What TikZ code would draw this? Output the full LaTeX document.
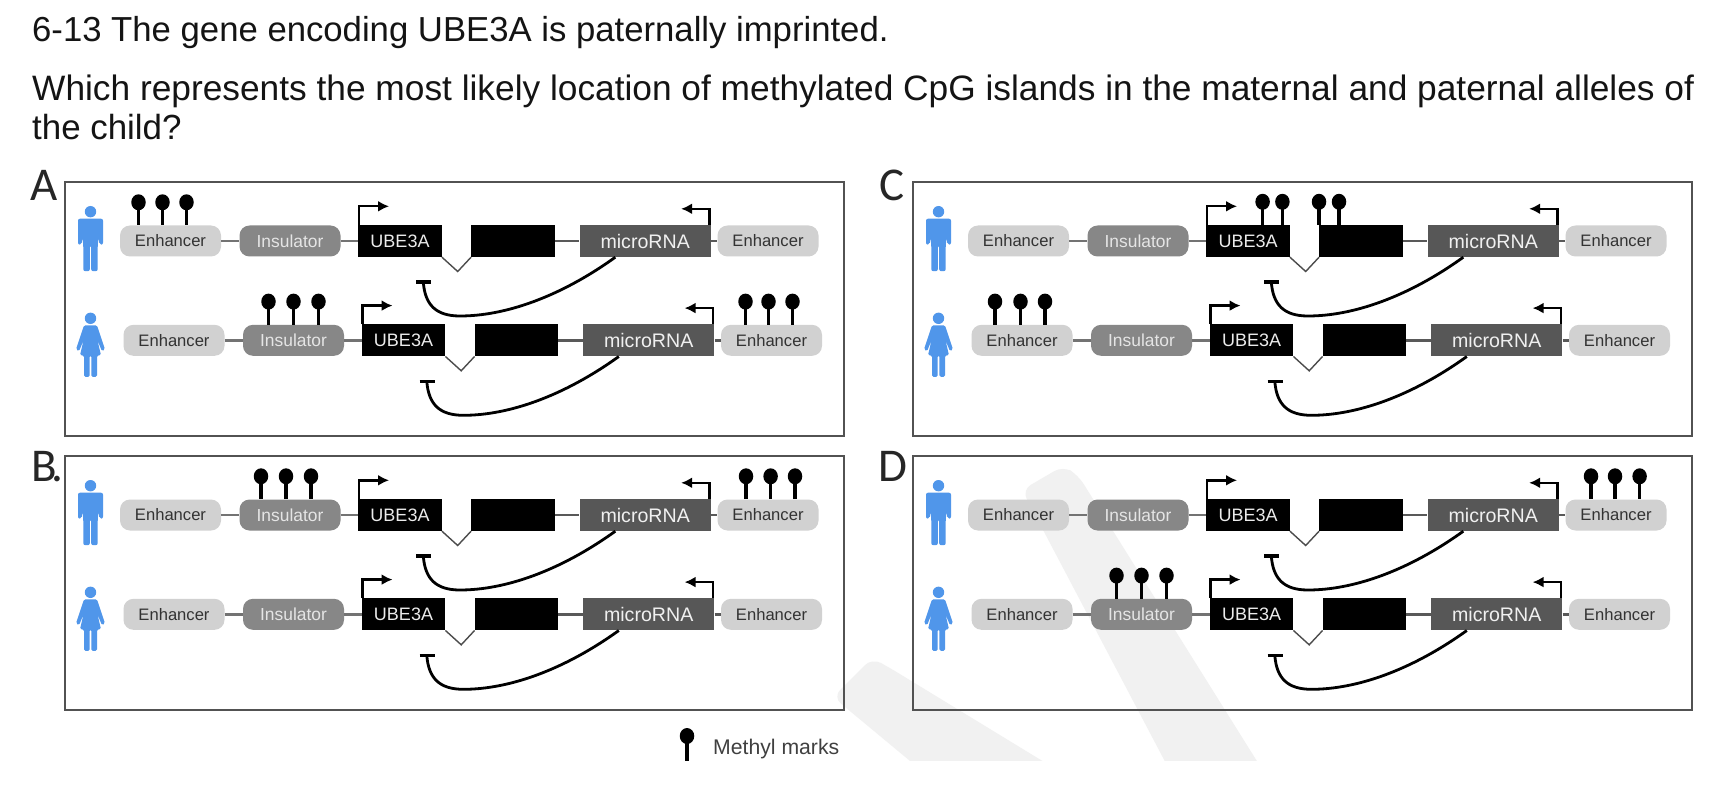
\documentclass[tikz,border=0pt]{standalone}
\usepackage{fontspec}
\setmainfont{Liberation Sans}
\newfontfamily\panelfont{Carlito}
\usetikzlibrary{arrows.meta,calc,shapes.geometric}
\definecolor{figblue}{HTML}{5096EA}
\definecolor{wmark}{HTML}{F1F1F1}
\tikzset{
  enhbox/.style={draw=none,fill=black!18,rounded corners=10pt,minimum width=101pt,minimum height=31pt,inner sep=0pt,text=black!80,font=\fontsize{16.6}{18}\selectfont},
  insbox/.style={draw=none,fill=black!47,rounded corners=10pt,minimum width=101pt,minimum height=31pt,inner sep=0pt,text=black!10,font=\fontsize{17.4}{18}\selectfont},
  ubebox/.style={draw=none,fill=black,minimum width=83.5pt,minimum height=32pt,inner sep=0pt,text=black!8,font=\fontsize{18}{20}\selectfont},
  mirbox/.style={draw=none,fill=black!66,minimum width=131.4pt,minimum height=32pt,inner sep=0pt,text=black!6,font=\fontsize{19.6}{20}\selectfont},
  link/.style={draw=black!55,line width=2.4pt},
  intron/.style={draw=black!70,line width=1.4pt},
  promoter/.style={draw=black,line width=2.4pt,-{Latex[length=11pt,width=11pt]}},
  repress/.style={draw=black,line width=2.8pt},
  stopbar/.style={draw=black,line width=3.4pt},
  lollihead/.style={ellipse,fill=black,draw=none,minimum width=14.5pt,minimum height=16pt,inner sep=0pt},
  lollistick/.style={draw=black,line width=3.6pt},
  framebox/.style={draw=black!68,line width=2pt},
  plabel/.style={font=\panelfont\fontsize{47}{50}\selectfont,text=black!85,anchor=base west,inner sep=0pt},
  qtext/.style={text=black!92,anchor=base west,inner sep=0pt}
}
\newcommand{\allele}[3]{%
  \begin{scope}[shift={(#2,#3)}]
    \node[enhbox] (#1enhl) at (170.5,241) {Enhancer};
    \node[insbox] (#1ins) at (290,241) {Insulator};
    \node[ubebox] (#1ube) at (400,241) {UBE3A};
    \node[ubebox] (#1blk) at (513,241) {};
    \node[mirbox] (#1mir) at (645.2,241) {microRNA};
    \node[enhbox] (#1enhr) at (768,241) {Enhancer};
    \draw[link] (#1enhl) -- (#1ins);
    \draw[link] (#1ins) -- (#1ube);
    \draw[link,black!65] (#1blk) -- (#1mir);
    \draw[link,black!65] (#1mir) -- (#1enhr);
    \coordinate (#1vtip) at (457.7,271.5);
    \draw[intron] (#1ube.south east) -- (#1vtip) -- (#1blk.south west);
    \draw[promoter] ($(#1ube.north west)+(1,0)$) -- ++(0,-18.5) -- ++(30,0);
    \draw[promoter] ($(#1mir.north east)+(-1.5,0)$) -- ++(0,-16) -- ++(-28.5,0);
    \coordinate (#1mirout) at ($(#1mir.south west)+(36,0)$);
    \coordinate (#1stop) at (423.3,282);
    \coordinate (#1stopl) at (416,282);
    \coordinate (#1stopr) at (431,282);
    \draw[repress] (#1mirout) .. controls (560,297) and (505,316) .. (460,316) .. controls (436,316) and (425,305) .. (#1stop);
    \draw[stopbar] (#1stopl) -- (#1stopr);
  \end{scope}}
\newcommand{\man}[2]{%
  \begin{scope}[shift={(#1,#2)}]
    \fill[figblue] (0,0) circle (5.7);
    \fill[figblue,rounded corners=2pt] (-12.5,7) -- (12.5,7) -- (12.5,33) -- (9,33) -- (8,26) -- (7.2,34) -- (7.2,59.5) -- (0.7,59.5) -- (0.7,34) -- (-0.7,34) -- (-0.7,59.5) -- (-7.2,59.5) -- (-7.2,34) -- (-8,26) -- (-9,33) -- (-12.5,33) -- cycle;
  \end{scope}}
\newcommand{\woman}[2]{%
  \begin{scope}[shift={(#1,#2)}]
    \fill[figblue] (0,0) circle (5.7);
    \fill[figblue,rounded corners=1.5pt] (-6.5,7) -- (6.5,7) -- (14.5,31) -- (11.5,33) -- (7,22) -- (10.5,37) -- (6.5,37) -- (6.5,58.5) -- (0.8,58.5) -- (0.8,37) -- (-0.8,37) -- (-0.8,58.5) -- (-6.5,58.5) -- (-6.5,37) -- (-10.5,37) -- (-7,22) -- (-11.5,33) -- (-14.5,31) -- cycle;
  \end{scope}}
\newcommand{\panel}[3]{%
  \begin{scope}[shift={(#2,#3)}]
    \path[framebox] (65.4,182) rectangle (843.8,436);
    \man{90.5}{211.7}
    \woman{90.5}{318.3}
  \end{scope}
  \allele{#1x}{#2}{#3}
  \allele{#1y}{#2+3.5}{#3+99.3}}
\newcommand{\methyl}[2]{%
  \path (#1.north) ++(#2,0) coordinate (mbase) ++(0,-23) node[lollihead] (mhead) {};
  \draw[lollistick] (mhead.center) -- (mbase);}
\begin{document}
\begin{tikzpicture}[x=1pt,y=-1pt]
  \useasboundingbox (0,0) rectangle (1736,786);
  \fill[white] (0,0) rectangle (1736,786);
  % watermark
  \begin{scope}
    \clip (800,440) rectangle (1300,760);
    \fill[wmark,rounded corners=10pt] (1022,490) -- (1063,466) -- (1078,475) -- (1275,790) -- (1180,790) -- cycle;
    \fill[wmark,rounded corners=10pt] (833,697) -- (872,658) -- (890,668) -- (1090,790) -- (945,790) -- cycle;
  \end{scope}
  % question
  \node[qtext,font=\fontsize{34.7}{36}\selectfont] (q1) at (32,42) {6-13 The gene encoding UBE3A is paternally imprinted.};
  \node[qtext,font=\fontsize{35.3}{36}\selectfont] (q2) at (32,100.5) {Which represents the most likely location of methylated CpG islands in the maternal and paternal alleles of};
  \node[qtext,font=\fontsize{34.9}{36}\selectfont] (q3) at (32,140) {the child?};
  % panels
  \node[plabel] (la) at (30,201) {A};
  \node[plabel] (lb) at (31,481) {B\kern-5pt.};
  \node[plabel] (lc) at (879,201) {C};
  \node[plabel] (ld) at (878,481) {D};
  \panel{a}{0}{0}
  \panel{b}{0}{274}
  \panel{c}{848}{0}
  \panel{d}{848}{274}
  % methyl marks
  \methyl{axenhl}{-32}\methyl{axenhl}{-8}\methyl{axenhl}{16}
  \methyl{ayins}{-25}\methyl{ayins}{0}\methyl{ayins}{25}
  \methyl{ayenhr}{-26}\methyl{ayenhr}{-3}\methyl{ayenhr}{21}
  \methyl{bxins}{-29}\methyl{bxins}{-4}\methyl{bxins}{21}
  \methyl{bxenhr}{-22}\methyl{bxenhr}{2.6}\methyl{bxenhr}{27}
  \methyl{cxube}{14.6}\methyl{cxube}{34.4}
  \methyl{cxblk}{-42}\methyl{cxblk}{-22}
  \methyl{cyenhl}{-27}\methyl{cyenhl}{-1.5}\methyl{cyenhl}{23}
  \methyl{dxenhr}{-25}\methyl{dxenhr}{-1}\methyl{dxenhr}{23.6}
  \methyl{dyins}{-25}\methyl{dyins}{0}\methyl{dyins}{25}
  % legend
  \node[lollihead] (leghead) at (687,736) {};
  \coordinate (legbase) at (687,761);
  \draw[lollistick] (leghead.center) -- (legbase);
  \node[anchor=base west,inner sep=0pt,text=black!75,font=\fontsize{21.2}{22}\selectfont] (legtext) at (713,754) {Methyl marks};
\end{tikzpicture}
\end{document}
